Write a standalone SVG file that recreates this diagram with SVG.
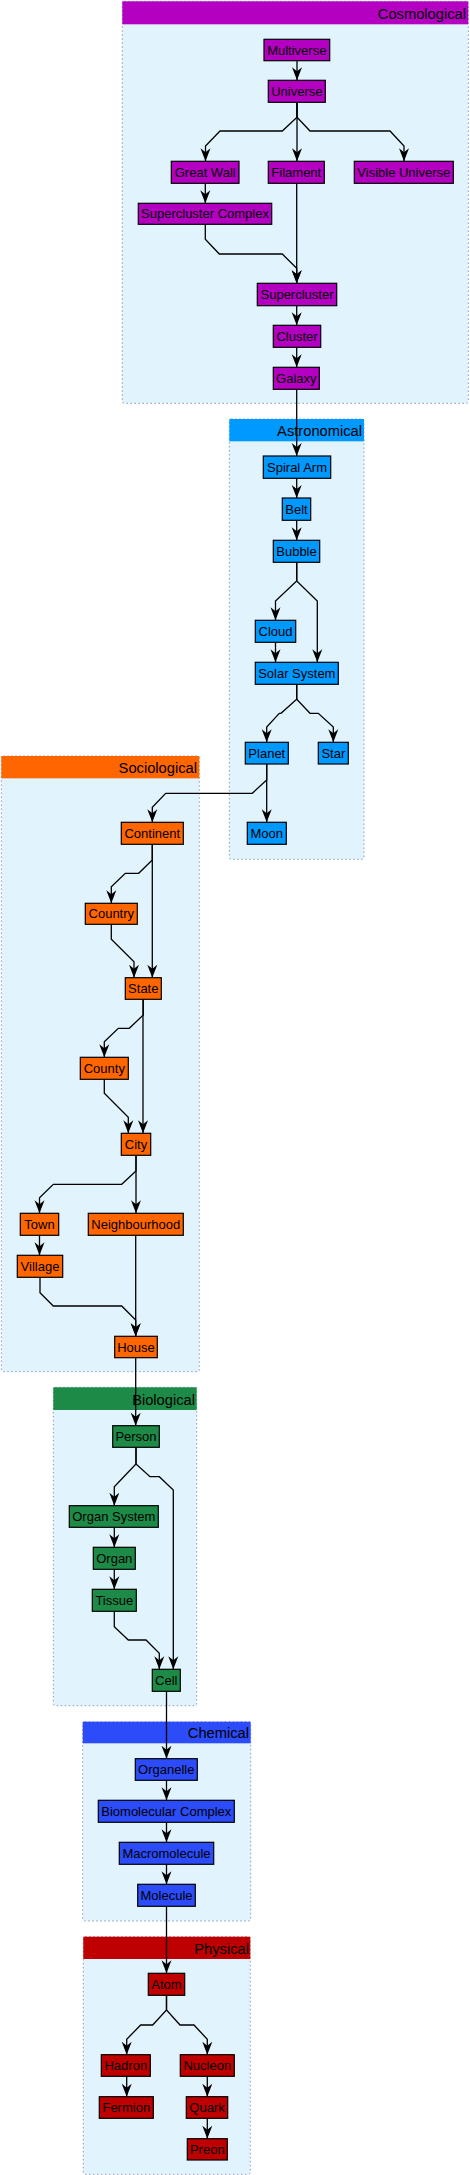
<svg xmlns="http://www.w3.org/2000/svg" width="470" height="2175" viewBox="0 0 470 2175">
<style>
.cl{fill:#E1F3FD;stroke:#8C9AB8;stroke-width:1;stroke-dasharray:1.5,2.5}
.ht{font-family:"Liberation Sans",Arial,sans-serif;font-size:14.7px;fill:#000;text-anchor:end}
.n rect{stroke:#000;stroke-width:1.2}
.n text{font-family:"Liberation Sans",Arial,sans-serif;font-size:13px;fill:#000;text-anchor:middle}
.co rect{fill:#B400C0}.as rect{fill:#0099FF}.so rect{fill:#FF6600}.bi rect{fill:#1D8A48}.ch rect{fill:#2B4CF8}.ph rect{fill:#BF0000}
.e polyline{fill:none;stroke:#000;stroke-width:1.3;marker-end:url(#ah)}
</style>
<defs>
<marker id="ah" markerUnits="userSpaceOnUse" markerWidth="14" markerHeight="12" viewBox="0 0 14 12" refX="13" refY="6" orient="auto">
<path d="M0,1 L13,6 L0,11 L4,6 z" fill="#000"/>
</marker>
</defs>
<g id="clusters">
<g id="cluster-cosmological"><rect class="cl" x="122.3" y="1.3" width="346" height="402" rx="2"/><rect x="122.3" y="1.3" width="346" height="23" fill="#B400C0"/><text class="ht" x="466" y="19">Cosmological</text></g>
<g id="cluster-astronomical"><rect class="cl" x="229.3" y="419" width="134.7" height="440.3" rx="2"/><rect x="229.3" y="419" width="134.7" height="22.3" fill="#0099FF"/><text class="ht" x="362" y="436">Astronomical</text></g>
<g id="cluster-sociological"><rect class="cl" x="1.3" y="756" width="198" height="615.7" rx="2"/><rect x="1.3" y="756" width="198" height="22.3" fill="#FF6600"/><text class="ht" x="197" y="773">Sociological</text></g>
<g id="cluster-biological"><rect class="cl" x="53.3" y="1387.3" width="143.4" height="318.4" rx="2"/><rect x="53.3" y="1387.3" width="143.4" height="22.7" fill="#1D8A48"/><text class="ht" x="195" y="1405">Biological</text></g>
<g id="cluster-chemical"><rect class="cl" x="82.7" y="1721.7" width="168" height="199.3" rx="2"/><rect x="82.7" y="1721.7" width="168" height="21.6" fill="#2B4CF8"/><text class="ht" x="249" y="1738">Chemical</text></g>
<g id="cluster-physical"><rect class="cl" x="83.3" y="1936.7" width="167" height="237.6" rx="2"/><rect x="83.3" y="1936.7" width="167" height="22.3" fill="#BF0000"/><text class="ht" x="249" y="1954">Physical</text></g>
</g>
<g id="edges" class="e">
<polyline points="297,60.7 297,80.3"/>
<polyline points="297,102.3 297,117.3 282.3,131 220,131 205.5,146 205.5,161.3"/>
<polyline points="297,102.3 297,161.3"/>
<polyline points="297,102.3 297,117.3 310,131 390,131 404,146 404,161.3"/>
<polyline points="205.3,183.3 205.3,203.3"/>
<polyline points="205.3,224.3 205.3,239.3 219.3,254 282.3,254 296.7,268.3 296.7,283.3"/>
<polyline points="296.7,183.3 296.7,283.3"/>
<polyline points="296.7,305.7 296.7,325.3"/>
<polyline points="296.7,347.3 296.7,367.3"/>
<polyline points="296.7,389.3 296.7,456"/>
<polyline points="296.7,478.3 296.7,498"/>
<polyline points="296.7,520.3 296.7,540.3"/>
<polyline points="296.7,562.3 296.7,581 275.5,601 275.5,620.3"/>
<polyline points="296.7,562.3 296.7,581 317.3,601 317.3,662.3"/>
<polyline points="275.5,642.3 275.5,662.3"/>
<polyline points="296.7,684.3 296.7,699.3 281,713.3 279.3,713.3 266.7,727 266.7,742.3"/>
<polyline points="296.7,684.3 296.7,699.3 310,713.3 318.3,713.3 333.3,727 333.3,742.3"/>
<polyline points="266.7,764 266.7,822.3"/>
<polyline points="266.7,764 266.7,780 252.3,793.3 165.7,793.3 152.3,807.3 152.3,822.3"/>
<polyline points="152.3,844.3 152.3,860 138.7,873.3 125.3,873.3 111.3,886.7 111.3,903.3"/>
<polyline points="152.3,844.3 152.3,977.7"/>
<polyline points="111.3,924.3 111.3,939.3 134,961.7 134,977.7"/>
<polyline points="143.3,999.3 143.3,1015 129.3,1028.3 118.3,1028.3 104.3,1041.7 104.3,1057.3"/>
<polyline points="143,999.3 143,1133.3"/>
<polyline points="104.3,1079.3 104.3,1093.3 128.3,1117.3 128.3,1133.3"/>
<polyline points="136,1155.3 136,1171 121.7,1184.3 53.3,1184.3 39.5,1197.7 39.5,1213.3"/>
<polyline points="136,1155.3 136,1213.3"/>
<polyline points="39.5,1235.3 39.5,1255.3"/>
<polyline points="40,1277.3 40,1292.7 53.3,1306 121.7,1306 135.7,1320 135.7,1336.3"/>
<polyline points="135.7,1235.3 135.7,1336.3"/>
<polyline points="135.7,1357.7 135.7,1425.7"/>
<polyline points="136,1447.3 136,1464 114.3,1486.7 114.3,1505.7"/>
<polyline points="136,1447.3 136,1464 150,1476.7 159.3,1476.7 173.3,1490 173.3,1669.3"/>
<polyline points="114.3,1527.3 114.3,1547.3"/>
<polyline points="114.3,1569.3 114.3,1589.3"/>
<polyline points="114.3,1611.3 114.3,1626.7 128.3,1640 146,1640 159.3,1653.3 159.3,1669.3"/>
<polyline points="166.5,1691.3 166.5,1758.7"/>
<polyline points="166.5,1780.3 166.5,1800.3"/>
<polyline points="166.5,1822.3 166.5,1842.3"/>
<polyline points="166.5,1864.3 166.5,1884.3"/>
<polyline points="166.5,1906.3 166.5,1973.3"/>
<polyline points="166.5,1995.3 166.5,2010 152.7,2025 140.7,2025 126.7,2039.3 126.7,2054.7"/>
<polyline points="166.5,1995.3 166.5,2010 180,2025 194,2025 207.3,2039.3 207.3,2054.7"/>
<polyline points="126.7,2076.3 126.7,2096.7"/>
<polyline points="207.3,2076.3 207.3,2096.7"/>
<polyline points="207.3,2118.3 207.3,2138.7"/>
</g>
<g id="nodes">
<g id="multiverse" class="n co"><rect x="264" y="39.3" width="65.7" height="21.4"/><text x="296.8" y="54.5">Multiverse</text></g>
<g id="universe" class="n co"><rect x="268.3" y="80.3" width="57" height="22"/><text x="296.8" y="95.8">Universe</text></g>
<g id="great-wall" class="n co"><rect x="171.3" y="161.3" width="67.7" height="22"/><text x="205.2" y="176.8">Great Wall</text></g>
<g id="filament" class="n co"><rect x="268.3" y="161.3" width="56" height="22"/><text x="296.3" y="176.8">Filament</text></g>
<g id="visible-universe" class="n co"><rect x="354.3" y="161.3" width="99" height="22"/><text x="403.8" y="176.8">Visible Universe</text></g>
<g id="supercluster-complex" class="n co"><rect x="138.3" y="203.3" width="133.4" height="21"/><text x="205" y="218.3">Supercluster Complex</text></g>
<g id="supercluster" class="n co"><rect x="257.3" y="283.3" width="79.4" height="22.4"/><text x="297" y="299">Supercluster</text></g>
<g id="cluster" class="n co"><rect x="273.3" y="325.3" width="47.4" height="22"/><text x="297" y="340.8">Cluster</text></g>
<g id="galaxy" class="n co"><rect x="273.3" y="367.3" width="46" height="22"/><text x="296.3" y="382.8">Galaxy</text></g>
<g id="spiral-arm" class="n as"><rect x="263.3" y="456" width="67.4" height="22.3"/><text x="297" y="471.6">Spiral Arm</text></g>
<g id="belt" class="n as"><rect x="282.3" y="498" width="28.4" height="22.3"/><text x="296.5" y="513.6">Belt</text></g>
<g id="bubble" class="n as"><rect x="273.3" y="540.3" width="46.4" height="22"/><text x="296.5" y="555.8">Bubble</text></g>
<g id="cloud" class="n as"><rect x="255.3" y="620.3" width="40.4" height="22"/><text x="275.5" y="635.8">Cloud</text></g>
<g id="solar-system" class="n as"><rect x="255.3" y="662.3" width="83" height="22"/><text x="296.8" y="677.8">Solar System</text></g>
<g id="planet" class="n as"><rect x="245.3" y="742.3" width="43" height="21.7"/><text x="266.8" y="757.7">Planet</text></g>
<g id="star" class="n as"><rect x="318.3" y="742.3" width="30" height="21.7"/><text x="333.3" y="757.7">Star</text></g>
<g id="moon" class="n as"><rect x="247.3" y="822.3" width="39" height="22"/><text x="266.8" y="837.8">Moon</text></g>
<g id="continent" class="n so"><rect x="121.3" y="822.3" width="62" height="22"/><text x="152.3" y="837.8">Continent</text></g>
<g id="country" class="n so"><rect x="85.3" y="903.3" width="52" height="21"/><text x="111.3" y="918.3">Country</text></g>
<g id="state" class="n so"><rect x="125.3" y="977.7" width="36" height="21.6"/><text x="143.3" y="993">State</text></g>
<g id="county" class="n so"><rect x="80.3" y="1057.3" width="48" height="22"/><text x="104.3" y="1072.8">County</text></g>
<g id="city" class="n so"><rect x="121.3" y="1133.3" width="29.4" height="22"/><text x="136" y="1148.8">City</text></g>
<g id="town" class="n so"><rect x="20.3" y="1213.3" width="38.4" height="22"/><text x="39.5" y="1228.8">Town</text></g>
<g id="neighbourhood" class="n so"><rect x="88.3" y="1213.3" width="95" height="22"/><text x="135.8" y="1228.8">Neighbourhood</text></g>
<g id="village" class="n so"><rect x="17.3" y="1255.3" width="45.4" height="22"/><text x="40" y="1270.8">Village</text></g>
<g id="house" class="n so"><rect x="114.7" y="1336.3" width="42.6" height="21.4"/><text x="136" y="1351.5">House</text></g>
<g id="person" class="n bi"><rect x="112.7" y="1425.7" width="46.6" height="21.6"/><text x="136" y="1441">Person</text></g>
<g id="organ-system" class="n bi"><rect x="69.3" y="1505.7" width="89" height="21.6"/><text x="113.8" y="1521">Organ System</text></g>
<g id="organ" class="n bi"><rect x="93.3" y="1547.3" width="42" height="22"/><text x="114.3" y="1562.8">Organ</text></g>
<g id="tissue" class="n bi"><rect x="92.3" y="1589.3" width="44" height="22"/><text x="114.3" y="1604.8">Tissue</text></g>
<g id="cell" class="n bi"><rect x="152.3" y="1669.3" width="28" height="22"/><text x="166.3" y="1684.8">Cell</text></g>
<g id="organelle" class="n ch"><rect x="135.3" y="1758.7" width="62" height="21.6"/><text x="166.3" y="1774">Organelle</text></g>
<g id="biomolecular-complex" class="n ch"><rect x="98.3" y="1800.3" width="136" height="22"/><text x="166.3" y="1815.8">Biomolecular Complex</text></g>
<g id="macromolecule" class="n ch"><rect x="119.3" y="1842.3" width="94.4" height="22"/><text x="166.5" y="1857.8">Macromolecule</text></g>
<g id="molecule" class="n ch"><rect x="137.7" y="1884.3" width="57.6" height="22"/><text x="166.5" y="1899.8">Molecule</text></g>
<g id="atom" class="n ph"><rect x="148.3" y="1973.3" width="36.4" height="22"/><text x="166.5" y="1988.8">Atom</text></g>
<g id="hadron" class="n ph"><rect x="101.3" y="2054.7" width="49" height="21.6"/><text x="125.8" y="2070">Hadron</text></g>
<g id="nucleon" class="n ph"><rect x="180.3" y="2054.7" width="54" height="21.6"/><text x="207.3" y="2070">Nucleon</text></g>
<g id="fermion" class="n ph"><rect x="99.3" y="2096.7" width="54" height="21.6"/><text x="126.3" y="2112">Fermion</text></g>
<g id="quark" class="n ph"><rect x="186.3" y="2096.7" width="41.4" height="21.6"/><text x="207" y="2112">Quark</text></g>
<g id="preon" class="n ph"><rect x="187.3" y="2138.7" width="40" height="21.3"/><text x="207.3" y="2154">Preon</text></g>
</g>
</svg>
